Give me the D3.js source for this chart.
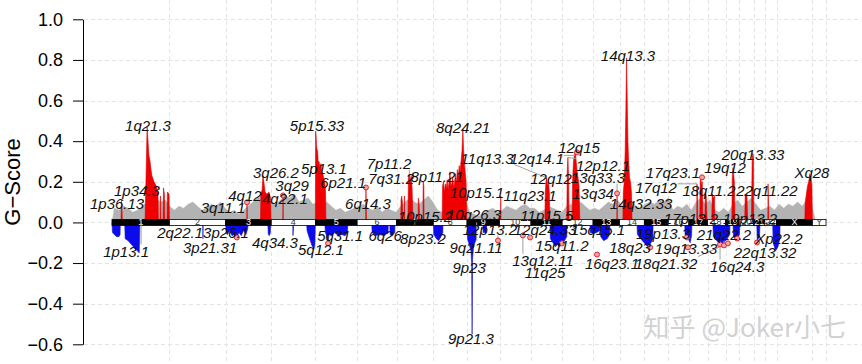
<!DOCTYPE html>
<html>
<head>
<meta charset="utf-8">
<script src="https://cdn.jsdelivr.net/npm/d3@7"></script>
<style>
  body { margin: 0; background: #fff; }
  svg { display: block; font-family: "Liberation Sans", Arial, sans-serif; }
</style>
</head>
<body>
<svg id="chart" width="862" height="364"></svg>
<script>
// chromosomes (Mb)
var chrNames = ["1","2","3","4","5","6","7","8","9","10","11","12","13","14","15","16","17","18","19","20","21","22","X","Y"];
var chrLengths = [249,243,198,191,181,171,159,146,141,136,135,134,115,107,103,90,81,78,59,63,48,51,155,59];

// background G-score, one value per 20 Mb bin
var grayStep = 20;
var grayScores = [
  0.07,0.06,0.08,0.07,0.05,0.06,0.08,0.1,0.09,0.12,0.1,0.11,0.08,
  0.06,0.08,0.07,0.09,0.1,0.08,0.06,0.07,0.09,0.08,0.1,0.07,
  0.05,0.06,0.04,0.06,0.08,0.1,0.12,0.13,0.11,0.1,
  0.09,0.11,0.13,0.12,0.14,0.1,0.11,0.12,0.09,
  0.1,0.12,0.1,0.08,0.06,0.07,0.05,0.06,0.07,
  0.08,0.09,0.07,0.06,0.08,0.05,0.07,0.06,0.05,
  0.08,0.1,0.12,0.1,0.09,0.11,0.13,0.1,
  0.06,0.05,0.08,0.1,0.12,0.1,0.11,
  0.05,0.04,0.03,0.05,0.06,0.07,0.05,
  0.06,0.08,0.07,0.06,0.08,0.09,0.07,
  0.07,0.05,0.06,0.08,0.07,0.06,0.05,
  0.08,0.09,0.07,0.1,0.08,0.06,0.07,
  0.06,0.08,0.1,0.09,0.11,
  0.08,0.09,0.1,0.08,0.07,0.09,
  0.1,0.09,0.11,0.1,0.12,
  0.06,0.08,0.07,0.09,0.06,
  0.1,0.12,0.09,0.11,
  0.06,0.05,0.07,0.05,
  0.09,0.11,0.08,
  0.1,0.12,0.09,
  0.06,0.07,
  0.08,0.06,0.09,
  0.07,0.09,0.08,0.1,0.08,0.11,0.09,
  0,0,0
];

// significant amplifications [genome Mb, G-score]
var ampPoints = [
  [39,0],[41,0.11],[43,0.08],[45,0],
  [143,0],[147,0.2],[152,0.47],[156,0.4],[160,0.33],[165,0.3],[169,0.26],[173,0.23],[182,0.2],[191,0.18],[199,0.15],[201,0],
  [208,0],[210,0.13],[212,0],
  [221,0],[223,0.17],[227,0.14],[229,0],
  [238,0],[240,0.15],[247,0.14],[249,0],
  [584,0],[585,0.1],[586,0],
  [643,0],[645,0.14],[650,0.16],[654,0.23],[658,0.2],[663,0.15],[671,0.14],[680,0.15],[687,0.12],[689,0],
  [740,0],[741,0.13],[742,0],
  [881,0],[882,0.45],[884,0.43],[886,0.38],[888,0.36],[891,0.35],[893,0.3],[897,0.3],[901,0.27],[905,0.29],[909,0.25],[913,0.24],[917,0.22],[921,0.2],[925,0.16],[927,0],
  [1099,0],[1100,0.17],[1101,0.12],[1102,0],
  [1251,0],[1252,0.11],[1255,0.13],[1258,0.1],[1260,0],
  [1266,0],[1267,0.13],[1269,0],
  [1282,0],[1284,0.22],[1288,0.24],[1292,0.2],[1296,0.23],[1300,0.17],[1304,0],
  [1326,0],[1327,0.12],[1330,0.1],[1333,0],
  [1347,0],[1348,0.2],[1351,0.18],[1352,0],
  [1430,0],[1432,0.18],[1436,0.2],[1440,0.15],[1444,0.19],[1448,0.17],[1452,0.21],[1456,0.16],[1460,0.2],[1464,0.25],[1468,0.18],[1472,0.19],[1476,0.22],[1480,0.17],[1484,0.2],[1488,0.24],[1492,0.19],[1496,0.26],[1500,0.22],[1504,0.28],[1508,0.25],[1512,0.3],[1516,0.35],[1520,0.46],[1523,0.36],[1526,0.3],[1530,0.25],[1534,0.2],[1537,0],
  [1683,0],[1684,0.13],[1685,0],
  [1875,0],[1877,0.15],[1880,0.2],[1883,0.22],[1887,0.18],[1891,0.2],[1895,0.14],[1897,0],
  [1970,0],[1972,0.25],[1975,0.32],[1978,0.22],[1980,0],
  [1993,0],[1995,0.2],[1999,0.3],[2003,0.33],[2007,0.35],[2011,0.3],[2015,0.25],[2019,0.22],[2023,0.18],[2027,0],
  [2187,0],[2188,0.14],[2189,0],
  [2213,0],[2215,0.15],[2219,0.2],[2223,0.35],[2226,0.55],[2229,0.81],[2232,0.6],[2235,0.4],[2238,0.3],[2242,0.22],[2246,0.2],[2250,0.15],[2253,0],
  [2533,0],[2534,0.19],[2536,0.12],[2538,0],
  [2546,0],[2548,0.2],[2551,0.22],[2554,0.18],[2557,0.2],[2560,0],
  [2568,0],[2570,0.15],[2574,0.13],[2578,0],
  [2598,0],[2600,0.14],[2605,0.12],[2610,0.13],[2612,0],
  [2685,0],[2687,0.22],[2690,0.27],[2693,0.24],[2696,0.2],[2699,0],
  [2741,0],[2743,0.14],[2747,0.12],[2750,0.14],[2754,0],
  [2770,0],[2773,0.3],[2776,0.34],[2779,0.32],[2780,0],
  [2841,0],[2842,0.19],[2844,0.1],[2845,0],
  [3001,0],[3003,0.1],[3008,0.14],[3013,0.18],[3018,0.2],[3023,0.24],[3028,0.22],[3032,0.18],[3034,0]
];

// significant deletions [genome Mb, G-score]
var delPoints = [
  [0,0],[2,-0.05],[10,-0.06],[20,-0.07],[30,-0.07],[35,-0.06],[36,0],
  [55,0],[57,-0.08],[70,-0.09],[85,-0.11],[100,-0.13],[110,-0.14],[118,-0.15],[121,0],
  [393,0],[394,-0.08],[395,0],
  [492,0],[494,-0.05],[500,-0.06],[510,-0.04],[520,-0.065],[530,-0.06],[541,-0.075],[550,-0.05],[560,-0.065],[570,-0.04],[580,-0.06],[588,-0.03],[590,0],
  [675,0],[677,-0.06],[682,-0.065],[686,-0.05],[688,0],
  [783,0],[784,-0.065],[786,-0.03],[787,0],
  [843,0],[845,-0.04],[850,-0.06],[856,-0.08],[862,-0.1],[868,-0.12],[874,-0.13],[879,-0.11],[881,0],
  [922,0],[924,-0.05],[930,-0.065],[936,-0.1],[940,-0.06],[950,-0.065],[965,-0.05],[980,-0.065],[995,-0.06],[1010,-0.065],[1020,-0.05],[1022,0],
  [1125,0],[1127,-0.05],[1140,-0.065],[1160,-0.06],[1180,-0.065],[1196,-0.05],[1197,0],
  [1203,0],[1205,-0.06],[1215,-0.065],[1225,-0.05],[1226,0],
  [1392,0],[1394,-0.06],[1405,-0.08],[1415,-0.09],[1425,-0.07],[1433,-0.05],[1434,0],
  [1538,0],[1540,-0.08],[1545,-0.1],[1550,-0.12],[1555,-0.14],[1558,-0.2],[1560,-0.55],[1562,-0.18],[1566,-0.12],[1572,-0.1],[1578,-0.08],[1581,0],
  [1606,0],[1608,-0.05],[1620,-0.05],[1625,0],
  [1897,0],[1899,-0.08],[1910,-0.1],[1920,-0.12],[1930,-0.11],[1940,-0.12],[1950,-0.1],[1960,-0.09],[1970,-0.07],[1971,0],
  [2070,0],[2072,-0.05],[2085,-0.055],[2100,-0.05],[2113,-0.04],[2114,0],
  [2115,0],[2117,-0.07],[2130,-0.09],[2145,-0.08],[2156,-0.06],[2157,0],
  [2274,0],[2276,-0.06],[2290,-0.08],[2305,-0.1],[2320,-0.12],[2335,-0.1],[2343,-0.08],[2344,0],
  [2481,0],[2483,-0.07],[2495,-0.08],[2505,-0.1],[2511,-0.06],[2512,0],
  [2603,0],[2605,-0.07],[2620,-0.09],[2635,-0.11],[2650,-0.1],[2665,-0.08],[2676,-0.06],[2677,0],
  [2690,0],[2692,-0.07],[2705,-0.09],[2718,-0.06],[2720,0],
  [2793,0],[2795,-0.09],[2805,-0.07],[2807,0],
  [2862,0],[2864,-0.1],[2875,-0.14],[2885,-0.12],[2893,-0.08],[2894,0]
];

// cytoband labels: [text, label Mb, label score, anchor Mb, anchor score]
var peakLabels = [
  ["1p36.13", 22, 0.095, null, null],
  ["1p34.3", 108, 0.159, null, null],
  ["1q21.3", 156, 0.479, null, null],
  ["1p13.1", 61, -0.141, 126, 0],
  ["2q22.1", 295, -0.048, null, null],
  ["3p26.1", 494, -0.048, null, null],
  ["3p21.31", 425, -0.122, 541, -0.074],
  ["3q11.1", 481, 0.075, 585, 0.099],
  ["4q12", 576, 0.134, null, null],
  ["4q22.1", 749, 0.12, 741, 0.133],
  ["3q26.2", 710, 0.248, null, null],
  ["3q29", 780, 0.184, null, null],
  ["4q34.3", 706, -0.097, null, null],
  ["5q12.1", 905, -0.132, 936, -0.103],
  ["5p15.33", 888, 0.479, null, null],
  ["5p13.1", 918, 0.267, null, null],
  ["6p21.1", 1001, 0.199, 1100, 0.172],
  ["6q14.3", 1109, 0.095, null, null],
  ["5q31.1", 988, -0.063, null, null],
  ["6q26", 1183, -0.063, null, null],
  ["7p11.2", 1200, 0.292, 1288, 0.24],
  ["7q31.2", 1209, 0.218, null, null],
  ["8p11.21", 1408, 0.228, 1432, 0.18],
  ["8q24.21", 1521, 0.469, null, null],
  ["10p15.2", 1356, 0.031, null, null],
  ["10q26.3", 1568, 0.041, null, null],
  ["8p23.2", 1347, -0.077, null, null],
  ["10p15.1", 1581, 0.149, 1684, 0.13],
  ["11q13.3", 1625, 0.317, 1883, 0.22],
  ["12q14.1", 1841, 0.317, 2003, 0.33],
  ["12p12.1", 2127, 0.282, 1975, 0.32],
  ["12q15", 2023, 0.371, 2014, 0.345],
  ["12q12", 1902, 0.218, null, null],
  ["13q33.3", 2105, 0.223, 2188, 0.143],
  ["11q23.1", 1811, 0.134, null, null],
  ["13q34", 2084, 0.144, null, null],
  ["14q32.33", 2292, 0.095, null, null],
  ["14q13.3", 2235, 0.824, null, null],
  ["11p15.5", 1884, 0.036, null, null],
  ["12p13.2", 1637, -0.033, 1672, -0.089],
  ["12q24.33", 1876, -0.033, 1811, -0.074],
  ["15q15.1", 2105, -0.033, null, null],
  ["9q21.11", 1577, -0.122, 1580, 0],
  ["9p23", 1547, -0.22, null, null],
  ["9p21.3", 1555, -0.57, 1560, -0.55],
  ["15q11.2", 1949, -0.112, 1949, -0.103],
  ["13q12.11", 1867, -0.186, 1780, -0.064],
  ["11q25", 1876, -0.245, null, null],
  ["16q23.1", 2166, -0.2, 2101, -0.158],
  ["18q21.32", 2400, -0.2, 2668, -0.103],
  ["18q23", 2244, -0.122, 2331, -0.123],
  ["19q13.33", 2487, -0.127, 2495, -0.123],
  ["16q24.3", 2708, -0.215, 2634, -0.108],
  ["22q13.32", 2829, -0.147, 2794, -0.099],
  ["Xp22.2", 2889, -0.077, 2880, -0.12],
  ["19p13.3", 2387, -0.053, 2491, -0.074],
  ["21q22.2", 2651, -0.058, 2651, -0.113],
  ["17p13.2", 2508, 0.021, null, null],
  ["19p13.2", 2764, 0.021, null, null],
  ["17q12", 2357, 0.174, 2534, 0.19],
  ["17q23.1", 2430, 0.248, 2556, 0.222],
  ["18q11.2", 2586, 0.159, 2600, 0.14],
  ["22q11.22", 2837, 0.159, 2842, 0.19],
  ["19q12", 2656, 0.268, 2690, 0.27],
  ["20q13.33", 2777, 0.332, 2776, 0.34],
  ["Xq28", 3032, 0.248, null, null]
];

// peak markers [genome Mb, G-score]
var markerPoints = [
  [585,0.099],[741,0.133],[1100,0.172],[2014,0.345],[2188,0.143],[2556,0.222],
  [541,-0.074],[936,-0.103],[1672,-0.089],[1811,-0.074],[1780,-0.064],[1949,-0.103],
  [2101,-0.158],[2331,-0.123],[2491,-0.074],[2495,-0.123],[2634,-0.108],[2651,-0.113],
  [2668,-0.103],[2708,-0.079],[2794,-0.099]
];

var yTicks = [-0.6,-0.4,-0.2,0,0.2,0.4,0.6,0.8,1.0];

var W = 862, H = 364;
var svg = d3.select("#chart");

var chrStart = [], cum = 0;
chrLengths.forEach(function(l){ chrStart.push(cum); cum += l; });
var genomeLen = cum;

var x = d3.scaleLinear().domain([0, genomeLen]).range([112, 826]);
var y = d3.scaleLinear().domain([-0.6, 1.0]).range([344.3, 19.3]);

// grid
var grid = svg.append("g").attr("stroke", "#e4e4e4").attr("stroke-dasharray", "4,3").attr("stroke-width", 1);
grid.selectAll(".h").data(yTicks).enter().append("line")
    .attr("x1", 84).attr("x2", W)
    .attr("y1", function(d){ return Math.round(y(d)) + 0.5; })
    .attr("y2", function(d){ return Math.round(y(d)) + 0.5; });
grid.selectAll(".v").data(chrStart.slice(1).concat([genomeLen])).enter().append("line")
    .attr("y1", 0).attr("y2", H)
    .attr("x1", function(d){ return Math.round(x(d)) + 0.5; })
    .attr("x2", function(d){ return Math.round(x(d)) + 0.5; });

var area = d3.area()
    .x(function(d){ return x(d[0]); })
    .y0(y(0))
    .y1(function(d){ return y(d[1]); });

var grayData = grayScores.map(function(v, i){ return [i * grayStep + grayStep / 2, v]; });
grayData.unshift([0, 0]);
svg.append("path").datum(grayData)
    .attr("d", area).attr("fill", "#b3b3b3").attr("stroke", "#b3b3b3").attr("stroke-width", 0.5);

svg.append("path").datum(ampPoints)
    .attr("d", area).attr("fill", "#f00000").attr("stroke", "#e00000").attr("stroke-width", 0.6);

svg.append("path").datum(delPoints)
    .attr("d", area).attr("fill", "#0b0bee").attr("stroke", "#1414b8").attr("stroke-width", 0.6);

// chromosome bar
var bar = svg.append("g");
bar.selectAll("rect").data(chrNames).enter().append("rect")
    .attr("x", function(d, i){ return x(chrStart[i]); })
    .attr("width", function(d, i){ return x(chrLengths[i]) - x(0); })
    .attr("y", y(0) - 3).attr("height", 6)
    .attr("fill", function(d, i){ return i % 2 === 0 ? "#000" : "#fff"; })
    .attr("stroke", "#000").attr("stroke-width", 0.8);
bar.selectAll("text").data(chrNames).enter().append("text")
    .attr("x", function(d, i){ return x(chrStart[i] + chrLengths[i] / 2); })
    .attr("y", y(0) + 3)
    .attr("text-anchor", "middle")
    .style("font-size", "9px")
    .attr("fill", function(d, i){ return i % 2 === 0 ? "#fff" : "#333"; })
    .text(function(d){ return d; });

// y axis
var yAxis = svg.append("g")
    .attr("transform", "translate(83,0)")
    .call(d3.axisLeft(y).tickValues(yTicks).tickSize(10).tickSizeOuter(0).tickPadding(10)
      .tickFormat(d3.format(".1f")));
yAxis.select(".domain").attr("stroke", "#000");
yAxis.selectAll(".tick line").attr("stroke", "#000");
yAxis.selectAll(".tick text").style("font-size", "18px").attr("fill", "#000")
    .style("font-family", "'Liberation Sans', Arial, sans-serif");

svg.append("text")
    .attr("transform", "translate(20,182) rotate(-90)")
    .attr("text-anchor", "middle")
    .style("font-size", "22px")
    .text("G\u2212Score");

// labels, leaders, markers
var leaderG = svg.append("g");
var markerG = svg.append("g");
var labelG = svg.append("g");

var labels = labelG.selectAll("text").data(peakLabels).enter().append("text")
    .attr("x", function(d){ return x(d[1]); })
    .attr("y", function(d){ return y(d[2]); })
    .attr("text-anchor", "middle")
    .attr("dominant-baseline", "central")
    .style("font-size", "15px")
    .style("font-style", "italic")
    .attr("fill", "#111")
    .text(function(d){ return d[0]; });

labels.each(function(d){
  if (d[3] == null) return;
  var b = this.getBBox();
  var ax = x(d[3]), ay = y(d[4]);
  var px = Math.max(b.x, Math.min(ax, b.x + b.width));
  var py = Math.max(b.y + 2, Math.min(ay, b.y + b.height - 2));
  if (Math.hypot(ax - px, ay - py) < 4) return;
  leaderG.append("line")
      .attr("x1", px).attr("y1", py).attr("x2", ax).attr("y2", ay)
      .attr("stroke", "#a0a0a0").attr("stroke-width", 1);
});

markerG.selectAll("circle").data(markerPoints).enter().append("circle")
    .attr("cx", function(d){ return x(d[0]); })
    .attr("cy", function(d){ return y(d[1]); })
    .attr("r", 2.5)
    .attr("fill", "#f5a3a3").attr("stroke", "#e02828").attr("stroke-width", 1);

svg.append("text")
    .attr("x", 846).attr("y", 337)
    .attr("text-anchor", "end")
    .style("font-family", "'Noto Sans CJK SC', sans-serif")
    .style("font-size", "26px")
    .attr("fill", "#d2d2d2")
    .text("知乎 @Joker小七");
</script>
</body>
</html>
